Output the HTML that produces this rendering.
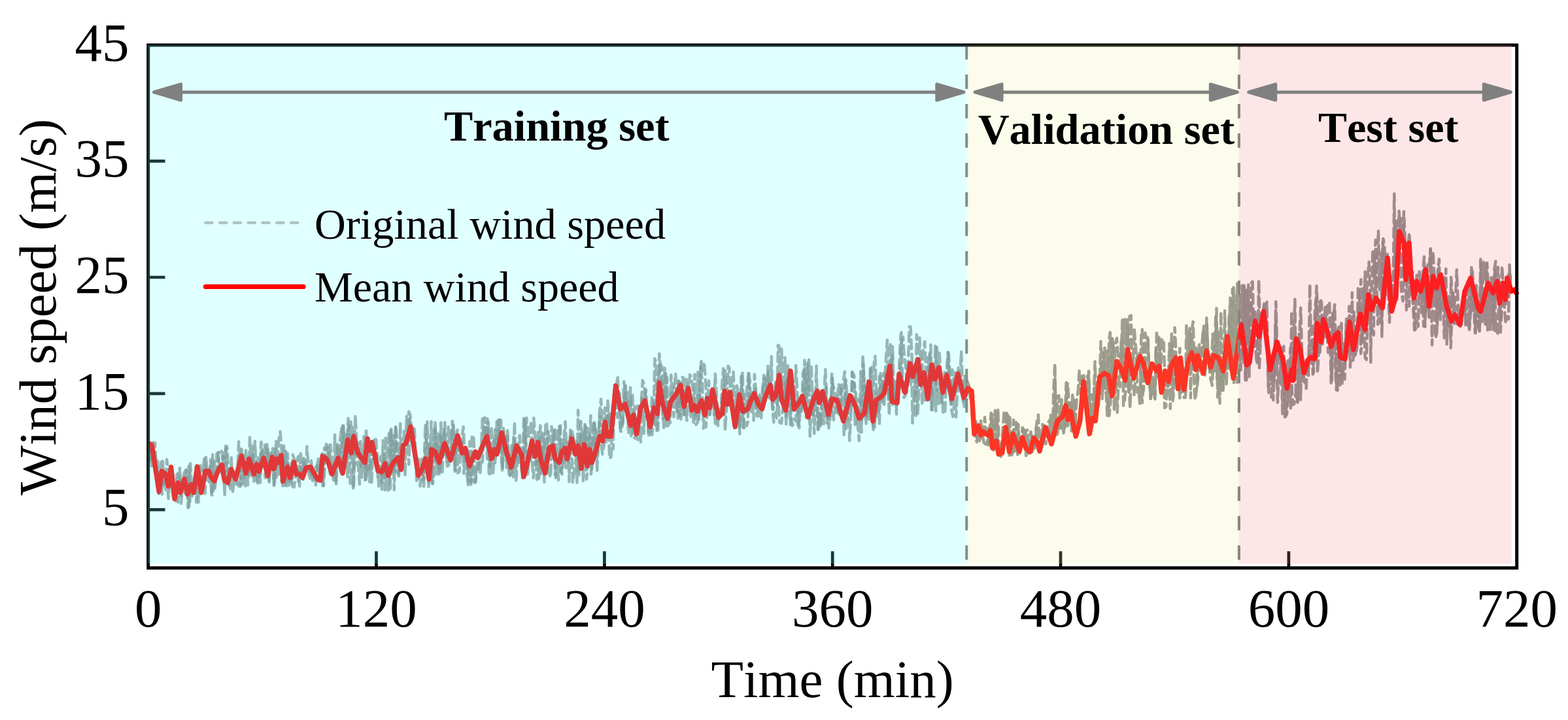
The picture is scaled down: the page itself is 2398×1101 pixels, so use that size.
<!DOCTYPE html><html><head><meta charset="utf-8"><style>html,body{margin:0;padding:0;background:#fff;}svg{display:block;}text{font-family:"Liberation Serif","Times New Roman",serif;fill:#000;font-kerning:none;}</style></head><body>
<svg width="2398" height="1101" viewBox="0 0 2398 1101">
<g fill="none" stroke="#808080" stroke-width="4.5" stroke-linecap="round" stroke-linejoin="round" stroke-dasharray="14 8">
<path stroke-opacity="0.75" d="M229.6 692.2 231.0 704.3 233.0 681.8 235.0 705.1 236.3 697.6 237.6 719.3 239.5 732.1 241.1 720.0 243.3 755.5 245.1 724.6 247.9 755.7 249.5 736.6 251.0 738.2 253.5 738.6 255.0 702.6 256.8 715.0 258.8 743.7 260.4 728.1 262.7 714.0 264.8 750.6 266.7 742.7 269.0 768.0 270.6 721.2 273.2 730.1 275.6 732.9 277.0 770.0 278.9 743.8 280.8 727.6 282.1 722.4 284.2 718.7 286.8 737.2 289.0 775.4 291.1 708.8 293.8 756.6 295.8 744.4 298.1 730.1 300.3 768.0 302.0 713.5 303.8 724.1 305.7 733.2 307.2 752.7 309.6 748.4 311.0 736.6 313.6 754.8 315.0 697.9 317.6 732.7 320.1 737.0 321.9 711.0 323.7 757.3 325.2 693.5 326.6 735.6 328.6 746.5 330.8 726.7 332.6 724.1 334.4 691.2 336.7 694.3 338.8 690.1 340.0 692.0 342.7 738.7 345.2 682.1 347.0 721.5 349.2 738.9 350.5 742.2 352.0 730.6 353.7 718.5 355.1 721.3 356.5 719.4 359.1 732.5 361.3 735.7 363.0 733.3 364.8 743.2 367.6 743.8 369.6 686.8 370.9 705.2 372.7 704.2 374.1 745.7 375.4 744.1 376.8 704.6 378.9 741.8 381.6 710.1 384.2 703.4 386.0 690.6 387.5 724.3 389.9 674.7 391.6 719.1 394.4 739.1 397.0 729.7 399.4 675.7 400.9 684.4 402.2 701.5 403.4 697.8 405.7 730.8 408.5 677.7 411.2 734.5 414.0 692.6 415.5 717.3 417.1 715.1 419.7 743.6 422.2 673.7 424.7 711.7 426.1 674.6 428.5 659.9 430.9 690.0 433.4 734.4 435.1 738.6 436.9 688.3 438.8 743.0 440.2 707.2 441.6 743.0 444.1 743.0 445.6 743.2 447.8 695.2 449.6 700.7 450.8 710.0 453.6 705.2 456.3 697.9 458.1 743.4 459.7 690.0 461.3 722.3 463.4 735.4 465.0 707.1 467.7 721.0 469.5 682.8 472.1 721.1 474.0 733.8 476.0 704.4 478.1 737.0 479.6 724.0 480.8 726.8 482.7 714.5 485.1 711.7 487.1 721.4 489.2 735.1 491.3 698.1 492.9 693.3 494.9 743.0 497.0 704.4 498.9 679.2 501.1 681.4 503.4 710.0 505.3 679.9 508.0 714.3 510.4 738.2 512.0 665.0 514.1 740.0 515.5 682.4 516.9 689.6 518.5 708.8 519.8 675.3 522.4 653.4 523.9 706.1 525.3 649.1 527.9 716.0 530.6 676.0 532.5 639.8 535.0 694.5 536.5 644.7 538.2 708.3 539.7 653.5 540.9 747.3 543.0 670.1 544.8 686.1 547.0 676.4 549.7 694.8 552.2 713.6 553.8 697.6 555.1 707.0 556.5 667.5 558.4 734.2 560.0 654.9 561.4 726.3 563.7 665.9 565.1 736.8 567.0 706.2 568.3 739.2 570.8 675.9 572.1 700.2 574.7 696.3 576.6 693.2 579.3 743.5 580.9 739.1 582.5 740.4 583.9 724.8 585.4 724.2 587.1 694.8 588.8 749.3 590.8 726.6 592.0 739.9 593.6 750.0 595.7 725.2 597.2 656.2 598.5 724.5 601.1 662.1 603.6 721.6 605.4 650.1 608.2 698.2 609.9 728.3 612.2 647.7 614.0 702.9 615.4 703.6 616.7 680.1 618.2 659.4 619.5 728.8 621.8 636.0 623.4 671.0 625.4 710.2 626.8 639.9 629.6 677.5 632.3 663.1 635.1 691.0 636.8 706.8 638.6 719.6 640.5 702.4 642.5 722.3 643.8 719.1 645.6 726.4 646.9 734.0 648.4 712.1 650.6 648.9 652.8 696.7 655.2 738.0 656.9 678.7 659.7 727.9 661.9 739.9 663.2 730.5 665.4 643.3 667.7 703.2 669.8 680.7 671.8 725.1 674.3 646.6 676.4 725.3 678.8 655.5 680.3 697.9 682.1 687.5 683.5 706.0 685.7 652.9 687.9 679.6 689.1 656.4 691.6 694.3 693.6 647.0 695.9 720.9 697.5 698.6 698.8 666.4 700.3 723.4 702.7 721.2 704.5 678.1 706.5 668.4 708.7 652.7 710.9 706.5 712.5 699.4 714.9 686.5 716.1 741.4 717.4 703.2 719.7 741.4 722.0 691.7 723.9 735.2 725.9 737.9 727.4 737.1 730.2 703.6 732.1 693.6 734.6 725.7 736.2 678.6 737.8 706.7 739.9 670.3 741.3 638.5 742.8 661.6 745.3 640.1 747.6 678.4 749.2 717.3 750.4 666.9 751.6 651.6 753.3 698.3 754.7 673.6 757.3 709.0 758.5 691.5 759.9 642.0 762.5 667.2 764.2 642.0 766.0 642.0 768.1 718.9 769.9 655.0 771.2 688.8 772.6 695.1 775.3 665.4 776.8 693.3 778.4 724.6 780.2 727.1 782.6 681.3 784.9 731.4 786.9 644.8 789.3 735.4 791.2 703.6 793.6 669.9 794.9 665.8 797.6 718.5 799.3 724.8 801.0 716.0 802.6 639.5 804.9 691.5 806.7 728.8 808.2 708.0 810.8 705.9 812.8 694.2 815.6 730.8 817.5 707.1 818.9 709.3 820.6 708.8 822.2 695.6 824.3 733.9 826.2 650.8 828.1 658.8 829.8 703.8 831.1 690.7 832.5 737.4 834.5 645.4 836.1 646.5 837.7 699.0 839.6 724.9 842.3 730.2 843.6 652.2 844.8 669.8 846.8 654.6 848.9 726.4 851.6 704.0 854.1 734.0 855.7 652.1 857.1 718.5 859.4 725.3 862.1 679.6 864.5 644.7 866.4 685.9 868.9 690.7 870.5 736.6 872.2 657.6 873.6 673.9 875.9 738.0 877.3 729.5 879.4 710.7 881.2 698.9 882.4 738.0 884.1 627.3 886.3 716.3 889.0 665.0 890.5 706.7 893.3 671.2 894.5 649.0 896.5 674.9 898.1 654.4 900.4 713.4 901.7 674.1 903.4 635.4 904.9 717.8 907.4 696.9 908.9 646.0 911.7 659.7 913.2 720.7 914.8 677.6 917.5 634.4 919.5 680.6 921.4 694.6 923.6 680.5 925.5 641.2 927.0 677.4 928.3 659.4 929.6 610.2 932.2 701.4 934.6 698.5 936.3 646.0 937.8 686.8 939.0 604.4 941.3 586.0 943.0 631.9 944.5 638.7 946.3 613.0 949.0 659.3 950.5 659.8 952.3 646.2 954.2 583.5 955.5 594.6 958.1 630.4 959.7 596.2 960.9 663.6 962.8 655.1 964.0 592.4 965.3 666.4 966.9 659.4 969.3 655.4 970.9 621.3 973.7 626.9 976.0 620.2 977.7 636.2 980.1 626.5 982.8 581.8 984.0 585.3 985.6 589.7 988.3 637.6 990.1 631.5 992.1 664.7 994.8 660.7 997.2 664.8 999.7 630.8 1001.4 548.6 1003.2 553.4 1004.5 658.5 1006.0 623.0 1007.3 564.6 1008.6 557.6 1011.3 592.0 1013.9 641.8 1015.3 620.2 1016.6 563.0 1018.5 633.1 1020.1 577.2 1022.4 642.5 1024.8 637.3 1026.2 573.3 1028.7 599.0 1030.5 637.6 1032.9 610.5 1034.5 622.7 1035.9 629.9 1037.7 580.2 1039.5 636.3 1041.1 589.3 1043.6 576.8 1044.9 577.5 1046.9 634.1 1049.5 579.8 1050.8 599.4 1052.3 613.8 1055.1 572.9 1056.9 575.9 1059.5 591.9 1061.9 626.2 1064.6 649.4 1066.8 646.1 1068.4 603.9 1069.9 631.9 1071.5 558.7 1073.0 574.2 1074.2 583.6 1075.7 655.1 1077.4 641.1 1079.5 653.2 1080.8 638.8 1082.9 631.3 1085.1 633.6 1087.4 620.9 1089.3 594.1 1092.0 634.6 1093.7 571.7 1095.6 600.2 1098.1 651.1 1099.7 635.9 1102.0 635.6 1104.7 633.2 1106.6 628.2 1109.2 566.9 1111.1 614.7 1113.2 620.1 1115.4 619.5 1117.6 600.5 1119.4 596.9 1121.0 630.0 1123.1 652.4 1125.1 635.0 1127.6 648.4 1129.0 612.7 1131.7 655.9 1133.0 607.7 1135.6 568.5 1137.8 655.6 1140.3 646.2 1141.9 651.1 1143.7 645.7 1145.2 571.2 1146.8 583.0 1148.6 630.0 1150.0 609.6 1152.6 643.0 1153.9 572.5 1155.2 588.7 1157.7 636.6 1159.8 636.2 1162.0 606.0 1164.1 639.2 1166.0 596.5 1167.9 579.0 1169.1 579.4 1170.7 577.9 1173.1 607.1 1174.6 557.2 1176.6 608.7 1178.5 605.1 1179.8 545.2 1181.1 619.8 1183.3 645.7 1185.7 631.0 1187.8 639.3 1189.6 604.3 1192.3 646.1 1195.1 647.3 1197.5 622.8 1200.2 584.9 1202.2 648.6 1203.7 579.1 1206.1 605.4 1207.9 571.7 1210.3 642.4 1212.0 651.0 1214.5 640.7 1217.1 644.1 1218.7 615.0 1220.4 650.7 1221.6 623.5 1224.3 629.9 1226.6 625.7 1229.1 595.6 1230.5 551.0 1232.2 609.2 1234.8 555.5 1237.4 604.9 1238.8 667.1 1240.6 618.6 1243.1 600.0 1245.2 662.8 1247.0 609.0 1248.5 559.5 1250.9 657.1 1252.5 631.2 1254.7 653.3 1257.0 597.2 1258.7 611.2 1260.1 607.2 1262.3 564.9 1264.9 636.4 1266.3 635.1 1267.6 654.8 1268.8 611.5 1270.6 628.7 1272.1 571.7 1273.6 588.9 1275.8 594.7 1278.5 615.0 1280.1 623.3 1282.4 632.7 1284.9 634.1 1286.6 586.7 1287.8 597.3 1289.5 586.3 1291.8 568.2 1294.2 655.4 1295.8 631.1 1297.8 606.9 1299.7 607.6 1302.1 626.2 1303.3 568.6 1304.7 589.2 1306.3 586.4 1308.5 597.4 1311.0 644.6 1312.7 659.3 1314.0 674.0 1316.3 567.9 1317.5 661.1 1319.4 542.3 1321.8 586.9 1323.2 630.8 1324.8 649.4 1327.2 608.1 1329.5 641.0 1331.1 564.0 1333.2 558.5 1335.2 652.4 1336.9 548.8 1338.4 544.7 1341.0 636.5 1342.6 612.6 1345.0 648.8 1346.7 571.1 1349.3 581.0 1352.0 622.4 1354.2 562.4 1356.9 520.0 1358.9 614.0 1361.5 523.9 1363.4 590.4 1365.1 529.3 1366.6 594.9 1369.3 595.2 1370.7 623.1 1373.4 598.1 1375.1 579.3 1376.4 584.3 1378.7 524.2 1381.1 515.4 1382.4 539.0 1384.9 557.9 1387.4 592.6 1390.0 555.0 1392.7 587.7 1394.2 558.5 1395.6 647.1 1398.1 592.5 1400.3 599.7 1401.9 511.4 1403.3 634.2 1404.8 612.3 1406.5 566.0 1408.1 590.2 1409.8 572.1 1411.5 537.1 1414.3 522.4 1416.4 590.4 1417.7 546.7 1420.1 611.4 1421.9 568.4 1423.4 527.2 1426.0 627.0 1427.5 613.7 1428.7 594.8 1431.4 628.5 1432.7 531.0 1435.1 567.8 1436.6 539.8 1439.2 583.1 1440.8 615.7 1442.3 584.8 1444.6 569.2 1446.9 579.1 1448.2 591.3 1450.6 538.9 1452.8 568.9 1454.7 624.2 1457.3 637.1 1458.5 631.4 1460.1 585.7 1462.1 638.0 1463.9 602.2 1465.8 561.5 1467.9 585.4 1470.1 537.3 1471.9 587.7 1474.4 623.8 1476.7 600.6 1478.6 581.7"/>
<path stroke-opacity="0.92" d="M1478.6 581.7 1481.0 588.0 1483.0 593.8 1485.6 600.4 1487.2 645.9 1489.6 661.9 1491.0 647.4 1492.6 644.5 1494.1 673.4 1495.8 670.8 1498.2 673.9 1499.5 667.4 1501.3 661.4 1504.1 666.4 1506.0 638.0 1507.5 656.5 1509.1 655.9 1510.9 679.0 1513.3 664.5 1515.7 631.6 1517.6 681.3 1519.0 649.8 1521.4 654.5 1524.1 630.6 1526.5 693.1 1528.3 694.8 1530.9 698.0 1533.4 658.9 1535.7 627.7 1537.9 638.4 1540.1 673.2 1541.5 633.5 1543.8 696.2 1546.0 678.6 1547.9 693.1 1550.1 642.1 1552.8 689.7 1554.3 653.4 1556.1 648.1 1558.1 690.4 1560.2 683.4 1561.6 686.1 1563.7 653.8 1565.0 656.2 1567.4 669.3 1569.4 658.0 1571.4 657.7 1573.3 693.0 1575.6 684.8 1577.4 683.4 1580.2 667.4 1582.0 683.9 1583.8 677.5 1585.0 653.0 1587.3 684.4 1589.1 683.9 1591.5 686.2 1594.2 649.0 1596.7 659.7 1598.5 658.0 1600.9 666.6 1603.4 645.8 1605.5 642.6 1607.1 671.7 1609.3 660.9 1611.8 666.6 1613.5 579.2 1615.6 665.1 1617.3 663.2 1619.9 636.2 1621.5 654.8 1623.4 639.4 1625.8 635.2 1627.4 629.0 1629.4 652.7 1631.3 594.7 1633.0 586.0 1635.7 638.9 1638.2 618.6 1640.9 647.5 1643.4 611.3 1645.6 650.9 1648.4 648.5 1650.6 647.6 1652.0 645.1 1653.6 626.3 1655.1 575.3 1657.7 597.4 1660.3 599.7 1662.5 637.4 1665.1 567.5 1667.6 650.3 1669.9 603.6 1672.0 636.1 1674.6 552.9 1676.7 624.3 1678.1 624.1 1680.1 619.8 1681.5 592.0 1683.5 522.1 1686.1 573.6 1687.3 596.8 1689.4 530.9 1691.6 596.4 1693.5 535.7 1696.2 635.7 1698.5 614.5 1699.7 516.6 1702.4 526.9 1704.1 628.7 1706.1 560.0 1708.7 630.7 1710.9 575.7 1712.7 591.6 1714.6 522.7 1716.7 573.3 1718.6 529.9 1720.5 486.8 1722.1 528.0 1724.6 497.4 1726.3 583.5 1728.3 623.5 1730.8 550.2 1732.5 548.8 1734.6 606.1 1736.8 570.2 1739.2 544.6 1741.8 537.7 1743.5 542.4 1744.7 592.4 1746.9 616.1 1749.1 580.2 1751.3 508.9 1753.5 519.3 1755.7 517.9 1757.9 583.7 1759.9 609.7 1762.3 577.3 1763.6 573.3 1766.0 608.0 1767.8 530.1 1770.3 576.2 1771.9 515.9 1773.6 539.3 1775.5 601.3 1777.7 599.2 1779.8 572.4 1781.1 623.8 1783.2 621.6 1785.9 570.6 1787.7 582.2 1789.8 625.0 1791.8 510.6 1793.7 612.9 1795.2 596.1 1796.6 554.8 1798.9 558.6 1800.3 588.5 1802.9 573.5 1804.3 608.8 1805.9 559.4 1808.3 576.3 1810.7 598.0 1813.1 601.9 1814.4 498.0 1816.6 542.3 1819.3 502.2 1820.9 608.5 1822.1 527.1 1823.3 500.5 1824.7 492.0 1826.4 550.9 1829.0 531.9 1830.9 592.5 1833.0 565.1 1835.0 542.1 1837.4 534.2 1839.2 515.3 1841.1 498.6 1842.9 573.6 1845.4 486.3 1847.5 540.7 1850.2 566.1 1852.5 569.2 1854.7 510.4 1857.5 570.0 1859.2 481.7 1861.1 579.2 1863.3 507.7 1865.5 616.7 1867.2 476.9 1868.4 554.3 1870.5 597.0 1873.0 556.9 1875.5 520.2 1878.0 566.7 1879.7 480.7 1882.2 566.4 1884.9 441.9 1886.7 587.3 1889.1 572.8 1890.7 547.3 1892.2 432.5 1894.4 488.7 1895.9 452.5 1897.5 500.3 1899.5 436.7 1900.8 545.0 1902.4 436.6 1904.5 581.1 1906.6 442.4 1908.5 506.7 1910.0 524.1 1911.5 524.7 1913.6 465.1 1915.5 482.7 1916.7 508.7 1919.5 475.8 1921.7 517.6 1924.2 543.5 1925.9 563.7 1928.0 515.6 1930.8 488.4 1933.4 464.2 1935.0 508.1 1937.4 461.7 1939.8 590.9 1942.4 587.5 1943.6 544.3 1945.1 561.8 1946.4 567.0 1948.5 583.0 1951.2 487.7 1953.9 615.5 1955.7 568.3 1957.1 586.6 1959.2 531.8 1961.4 632.7 1963.3 529.6 1965.2 637.7 1968.0 633.4 1969.5 613.2 1971.3 588.3 1973.9 624.3 1975.2 476.6 1977.7 546.4 1980.4 457.7 1981.7 597.1 1984.4 615.3 1986.7 510.5 1989.1 611.2 1990.5 527.0 1991.9 583.5 1993.9 577.6 1995.3 583.5 1997.6 594.0 1999.1 558.2 2000.4 568.9 2003.0 521.2 2005.6 556.9 2007.5 515.8 2008.9 570.2 2011.1 471.5 2013.0 455.0 2015.0 570.5 2017.2 529.4 2018.5 538.8 2020.8 495.1 2023.4 487.8 2025.1 480.5 2026.7 515.6 2029.2 494.7 2031.2 539.2 2032.9 538.6 2035.7 515.5 2037.0 581.1 2038.5 482.0 2040.5 509.4 2042.0 559.2 2043.8 596.4 2046.5 503.3 2047.8 499.7 2049.1 591.8 2051.5 494.3 2052.7 586.4 2055.2 525.5 2056.4 560.1 2058.9 492.5 2060.8 511.9 2063.5 509.9 2064.9 561.5 2066.4 517.2 2067.9 447.6 2069.2 551.1 2071.2 539.2 2072.9 526.6 2075.2 538.1 2077.7 467.1 2079.0 473.3 2081.4 427.4 2082.7 523.9 2085.2 440.5 2087.7 547.1 2089.7 550.1 2091.7 475.9 2094.3 454.8 2096.8 509.5 2098.6 500.0 2100.8 512.6 2102.0 389.2 2104.0 447.0 2105.4 427.8 2108.0 352.0 2109.7 442.9 2112.1 385.3 2113.4 514.7 2115.4 364.9 2117.4 377.2 2118.6 418.7 2121.4 409.4 2122.7 451.5 2124.3 430.4 2125.7 420.7 2128.0 472.7 2130.2 470.7 2132.3 296.2 2133.7 430.4 2136.3 417.2 2137.7 374.6 2139.6 322.8 2141.0 356.6 2142.9 442.3 2145.5 460.6 2146.9 323.4 2148.4 357.8 2150.9 473.9 2152.8 381.0 2155.3 355.9 2158.0 412.7 2160.4 416.1 2162.2 477.9 2164.1 503.9 2166.7 420.7 2169.2 445.9 2171.3 427.4 2174.0 479.2 2175.9 418.6 2178.1 392.5 2179.4 499.7 2181.3 414.1 2182.7 437.0 2185.5 487.3 2187.7 380.4 2190.2 527.6 2191.4 383.9 2193.7 423.9 2195.3 517.4 2197.4 509.0 2199.0 414.0 2201.0 396.2 2202.7 488.8 2204.3 419.6 2206.5 426.5 2209.2 424.2 2211.2 460.1 2213.2 486.9 2214.6 497.7 2216.3 450.1 2217.9 506.7 2219.2 424.1 2221.4 461.8 2223.5 466.7 2225.9 457.8 2227.8 412.4 2229.8 463.2 2231.4 494.6 2233.5 499.1 2235.3 468.1 2237.0 461.3 2239.6 452.9 2241.6 499.8 2243.3 479.1 2245.7 430.8 2247.2 504.1 2249.1 475.2 2250.4 409.0 2252.7 475.4 2254.1 463.8 2256.5 509.5 2257.9 436.5 2260.2 496.2 2262.4 505.0 2264.4 396.4 2266.8 463.1 2268.8 400.8 2271.2 428.9 2272.6 402.0 2275.2 504.7 2277.4 438.3 2279.4 503.9 2281.2 433.8 2283.7 491.3 2285.5 411.2 2287.4 399.6 2289.1 457.6 2290.9 408.5 2292.6 439.3 2295.1 487.8 2297.0 407.0 2298.5 428.4 2300.6 468.1 2302.7 494.8 2304.5 484.3 2307.0 488.0 2308.5 404.9 2310.4 446.7"/>
<path stroke-opacity="0.75" d="M230.1 678.2 232.1 712.8 234.2 676.7 237.0 677.0 239.3 721.7 241.1 704.9 242.9 755.0 245.6 718.9 246.9 702.5 248.7 703.4 250.9 741.0 253.5 749.0 255.4 728.1 257.6 762.5 259.6 727.9 262.1 735.4 264.9 758.8 267.4 745.1 270.0 748.1 272.3 768.0 275.0 715.0 276.8 757.4 278.9 758.8 280.9 743.5 283.1 755.4 285.2 718.6 287.5 776.4 288.7 712.8 290.4 766.9 292.7 762.9 295.3 750.4 297.4 733.4 299.4 714.7 301.5 713.4 303.5 768.0 306.3 711.7 307.7 733.5 309.2 746.7 310.5 725.1 312.0 700.0 314.2 715.6 316.7 725.1 319.1 722.2 320.8 719.4 322.3 703.0 323.9 757.2 326.1 756.8 327.8 705.4 329.1 737.5 331.7 693.5 333.6 691.9 335.8 716.3 338.5 722.5 341.1 697.5 343.6 757.8 345.3 682.1 347.3 683.1 350.0 732.0 352.3 747.4 353.9 699.7 355.9 752.1 358.3 728.6 360.1 740.2 361.6 740.2 363.7 713.2 365.1 675.4 366.9 699.3 368.2 744.0 370.0 744.5 371.6 715.2 373.2 732.2 374.4 698.0 375.9 687.7 378.2 729.6 380.7 716.0 382.1 667.8 384.6 727.2 386.1 682.2 387.9 737.4 390.6 727.1 392.6 737.8 394.2 699.0 396.5 721.9 398.1 737.8 399.9 689.0 401.5 693.1 404.1 694.4 405.5 677.8 407.2 714.0 409.6 685.6 411.7 737.2 413.4 699.8 414.9 712.0 417.4 685.7 418.8 742.6 420.9 686.5 422.6 733.4 423.9 698.2 425.3 728.4 427.6 695.9 430.3 733.4 432.7 743.0 434.1 681.7 435.8 743.0 438.1 724.1 439.8 693.2 442.1 736.1 443.7 735.8 445.9 708.0 447.4 744.0 449.8 744.9 452.1 725.4 453.6 726.1 455.1 716.2 456.4 739.2 458.1 714.0 460.6 713.2 462.7 724.5 464.6 697.8 466.9 717.9 469.5 715.8 471.9 713.1 474.5 719.6 476.6 729.7 478.0 723.0 480.5 731.5 482.9 741.9 484.2 722.4 486.6 699.8 489.1 729.7 491.9 723.3 493.7 743.0 496.1 685.1 498.6 687.3 499.9 689.6 502.3 682.8 504.9 726.3 506.3 721.0 508.7 710.2 511.2 712.6 513.9 739.6 516.1 679.2 517.4 694.5 519.2 685.5 520.9 721.0 522.3 698.3 523.9 651.2 525.5 660.2 528.2 692.2 529.9 663.8 531.4 730.7 533.5 650.2 535.5 739.1 538.0 718.6 540.1 746.8 542.1 682.7 543.4 634.9 545.1 667.9 546.4 711.0 548.0 712.6 550.0 740.5 551.3 675.3 553.1 730.0 554.6 706.1 557.4 707.7 559.8 733.2 562.5 711.5 564.7 720.7 566.5 714.7 568.0 677.6 570.7 684.0 573.0 668.6 575.2 672.9 576.8 714.0 578.0 731.3 580.5 730.4 582.0 698.0 584.2 748.6 585.7 673.5 588.1 734.8 589.8 667.2 591.3 728.2 593.1 687.7 595.2 660.3 596.8 750.5 598.1 655.9 600.6 684.1 602.9 749.1 604.9 650.3 606.9 718.0 609.0 724.7 610.4 695.4 612.3 685.3 615.0 706.9 616.9 688.1 618.4 679.6 621.0 675.3 623.5 681.3 625.2 629.4 627.4 634.3 629.2 657.9 631.1 651.9 633.7 656.1 635.2 689.3 637.3 736.4 639.1 724.3 640.8 731.4 642.7 743.5 645.3 702.1 648.1 744.6 650.6 688.8 651.9 678.4 653.5 644.9 655.6 744.0 657.9 693.0 659.6 644.7 660.8 741.0 662.3 671.3 663.6 653.5 665.9 658.0 667.8 725.1 669.8 663.1 671.2 687.9 672.7 724.8 674.1 666.5 676.6 689.3 678.7 697.6 680.3 646.1 681.9 686.2 684.0 713.1 686.1 711.4 687.4 685.6 689.3 705.2 691.9 644.0 694.3 669.0 695.7 720.9 697.1 673.4 699.6 657.0 702.3 690.4 704.4 685.9 706.9 674.5 708.2 693.6 709.4 724.0 711.6 693.6 713.9 725.0 715.8 736.6 718.4 675.2 720.5 740.9 721.9 666.2 724.3 665.7 726.6 737.5 729.1 717.6 731.5 717.3 734.2 689.2 736.4 675.7 737.8 640.2 739.1 662.1 741.8 663.7 743.3 653.3 745.2 701.9 746.6 645.2 747.9 728.4 749.4 724.2 751.4 683.2 753.3 726.4 754.7 715.5 757.0 656.9 759.5 697.1 761.2 687.0 762.7 642.0 765.1 670.8 766.4 697.4 768.7 718.7 770.5 659.8 773.1 687.5 774.9 715.1 776.2 655.3 778.0 710.3 780.1 727.1 781.4 718.8 783.3 722.9 785.4 668.3 786.6 713.0 788.8 683.1 790.7 690.1 793.5 707.4 795.8 697.2 797.4 687.8 799.0 730.6 801.1 639.8 803.9 691.6 805.2 639.0 807.8 670.8 810.2 652.1 812.0 646.4 813.6 698.8 816.3 639.3 818.6 671.4 821.0 733.5 823.0 660.2 825.1 664.1 827.0 724.8 828.7 715.9 831.5 663.5 833.0 723.2 834.6 700.1 835.8 719.3 838.4 657.4 840.5 697.2 842.2 690.9 843.9 695.6 845.6 678.5 848.3 656.9 850.0 730.6 851.4 680.5 852.9 654.6 854.6 653.1 857.1 651.0 858.4 721.9 860.3 712.5 862.0 672.7 863.2 702.1 865.5 715.4 867.1 676.7 869.2 706.7 871.8 668.6 874.2 657.0 876.9 669.6 879.4 681.1 882.0 675.1 883.5 703.0 885.6 727.7 888.3 644.2 889.8 658.5 892.0 736.5 893.9 665.6 895.2 651.4 897.0 732.7 898.8 715.3 900.8 664.4 902.7 673.0 903.9 725.1 906.7 674.2 908.0 644.3 909.7 651.5 911.1 697.2 913.5 694.9 914.9 689.5 916.9 630.6 919.1 610.3 921.2 648.6 922.9 662.5 925.3 623.4 927.7 664.7 930.1 630.2 932.9 634.1 934.9 668.1 937.6 636.6 939.6 617.2 941.9 599.5 944.6 574.8 946.2 612.8 947.5 601.4 948.9 654.5 951.0 635.8 952.4 648.5 953.9 610.0 955.4 614.5 956.8 589.6 958.1 629.3 960.8 613.5 962.8 621.0 965.3 617.4 967.3 601.9 968.6 668.6 971.0 670.2 972.9 665.4 975.4 672.4 977.3 652.4 980.0 676.0 981.5 605.0 983.1 615.7 984.7 662.8 986.2 616.6 987.9 596.1 990.7 641.9 992.1 669.1 994.7 658.4 997.1 608.0 999.6 616.0 1001.6 650.1 1004.2 648.4 1006.4 657.7 1008.3 540.9 1009.9 557.0 1012.5 560.7 1015.1 656.0 1016.5 655.7 1018.2 567.2 1019.5 655.1 1020.7 653.9 1023.3 643.9 1024.7 647.0 1026.2 607.5 1027.9 598.5 1030.6 594.8 1033.3 571.7 1034.6 606.6 1036.9 639.7 1038.2 582.4 1040.0 590.4 1041.4 640.9 1043.1 614.0 1045.7 634.2 1047.1 633.5 1049.0 626.8 1050.5 643.3 1052.8 587.1 1054.6 605.4 1056.6 637.1 1058.1 606.8 1060.9 649.8 1062.5 572.4 1064.0 622.7 1065.3 635.2 1067.3 568.9 1069.1 641.2 1070.3 590.7 1072.4 552.6 1074.4 566.8 1077.0 553.8 1079.4 587.2 1081.3 628.3 1084.0 582.3 1085.9 635.6 1087.3 615.0 1089.5 598.8 1092.2 605.0 1094.0 652.0 1095.5 626.1 1098.1 642.4 1100.5 641.2 1102.9 622.1 1104.6 581.2 1106.3 563.5 1109.0 658.0 1111.6 614.0 1113.6 559.7 1115.2 562.2 1117.4 605.7 1119.7 580.7 1121.6 568.6 1123.9 635.6 1125.6 596.4 1127.1 589.8 1129.3 608.0 1131.3 663.5 1133.6 575.3 1135.2 617.5 1136.6 653.5 1138.6 602.8 1140.7 632.6 1142.2 596.1 1144.7 570.7 1147.2 623.2 1149.8 614.5 1151.6 600.1 1154.2 610.0 1155.6 594.1 1157.2 630.0 1159.7 629.1 1161.7 603.8 1163.6 625.1 1166.4 605.3 1168.3 573.8 1170.8 606.3 1173.1 579.8 1174.9 569.5 1176.7 588.5 1178.4 585.9 1179.9 604.9 1182.1 626.5 1184.4 614.2 1186.0 584.7 1188.6 619.6 1189.9 527.8 1191.4 529.3 1193.3 606.2 1195.1 533.5 1196.4 560.1 1198.7 627.2 1200.4 546.2 1202.9 636.8 1204.7 556.8 1207.3 626.2 1208.8 650.2 1210.6 576.9 1212.9 600.9 1215.3 631.6 1217.1 558.7 1219.8 609.0 1222.2 654.6 1224.1 618.9 1226.1 628.9 1228.0 570.4 1230.6 562.9 1232.7 638.3 1235.2 584.5 1237.0 550.3 1238.3 597.2 1240.7 559.0 1243.2 634.1 1244.5 630.0 1247.0 619.7 1249.4 610.9 1251.5 656.5 1253.8 629.4 1255.8 652.2 1257.7 620.1 1259.8 648.2 1262.4 615.0 1263.8 591.4 1265.0 648.1 1267.8 623.7 1269.5 642.8 1271.1 641.5 1273.1 578.2 1275.0 642.3 1277.6 622.2 1280.1 632.0 1281.6 597.7 1282.9 587.4 1284.8 618.2 1286.8 594.7 1289.3 615.5 1290.8 666.8 1292.1 603.7 1293.8 581.2 1295.9 611.8 1297.6 603.9 1299.3 673.7 1301.6 630.0 1303.6 569.9 1306.3 574.5 1307.6 650.3 1309.4 618.6 1312.0 622.5 1313.3 610.2 1316.0 615.8 1318.1 645.6 1320.4 555.5 1322.7 615.6 1325.2 638.8 1326.6 630.1 1328.0 583.0 1329.4 618.8 1331.2 563.8 1333.5 623.1 1335.8 659.4 1337.2 657.7 1338.5 636.2 1341.0 600.2 1343.2 632.1 1344.9 575.6 1347.5 592.4 1349.2 614.2 1351.7 570.5 1354.5 579.2 1356.3 589.2 1358.5 582.4 1359.9 635.4 1361.8 569.1 1364.1 544.1 1365.5 618.8 1368.2 583.5 1371.0 633.6 1372.6 575.6 1374.4 581.1 1377.1 517.4 1378.4 508.2 1380.6 595.3 1382.6 607.9 1384.3 605.2 1386.9 598.9 1389.6 537.7 1390.8 499.6 1392.6 499.8 1395.3 562.7 1397.0 558.4 1398.9 567.9 1400.4 638.9 1402.9 549.8 1405.0 579.2 1406.3 516.6 1408.5 557.7 1410.4 619.1 1411.8 583.8 1414.0 609.1 1415.8 615.7 1417.6 582.2 1419.1 575.9 1421.8 540.7 1424.4 626.6 1426.3 576.5 1428.9 589.7 1430.3 526.9 1431.7 576.0 1433.7 598.3 1435.7 617.2 1437.5 586.1 1439.0 618.0 1440.4 593.9 1442.4 632.1 1445.0 633.0 1447.0 587.9 1449.5 538.5 1451.0 563.1 1453.4 611.4 1454.7 620.3 1456.5 565.6 1459.1 592.7 1460.5 566.6 1462.6 570.9 1465.1 570.0 1466.7 567.8 1468.8 598.5 1471.0 594.6 1473.3 616.7 1475.8 572.2 1477.8 604.9"/>
<path stroke-opacity="0.92" d="M1477.8 604.9 1480.5 593.1 1482.3 591.8 1483.9 609.4 1486.3 603.5 1488.0 623.3 1489.5 658.8 1491.2 670.1 1494.0 676.0 1495.9 651.1 1497.9 662.8 1500.3 641.8 1502.5 666.6 1505.1 677.2 1507.6 679.3 1509.3 676.2 1510.8 682.0 1513.2 653.8 1514.6 682.2 1517.2 630.5 1519.6 688.3 1521.8 627.5 1523.7 686.5 1526.3 624.5 1527.9 696.3 1530.6 677.2 1532.0 698.0 1533.6 669.9 1536.2 669.3 1538.1 676.3 1539.7 631.7 1542.0 681.4 1544.3 636.3 1546.8 695.3 1549.1 698.0 1550.9 654.9 1552.3 647.9 1554.0 646.0 1556.2 695.2 1557.4 649.4 1559.4 693.1 1561.9 677.8 1563.7 658.0 1565.5 663.7 1567.0 656.9 1569.2 696.8 1570.9 692.6 1573.2 691.5 1575.1 667.0 1576.5 660.2 1578.8 693.4 1580.3 680.1 1581.9 686.7 1583.5 668.4 1586.1 640.7 1587.9 634.3 1589.9 688.0 1592.7 666.0 1594.2 675.5 1596.2 650.1 1597.4 678.1 1599.4 678.6 1601.9 661.5 1603.2 673.3 1605.3 672.8 1607.1 631.1 1609.8 670.0 1611.1 601.9 1613.3 556.0 1615.1 662.0 1617.4 605.9 1619.4 605.0 1621.7 654.8 1623.5 611.1 1626.2 664.3 1628.5 646.8 1630.6 585.0 1633.2 651.2 1635.6 634.5 1637.3 615.9 1638.7 659.3 1640.2 601.2 1642.3 631.0 1644.1 648.6 1646.5 612.3 1649.0 595.8 1650.6 566.1 1653.4 609.4 1655.6 622.4 1657.4 574.2 1660.2 603.1 1661.8 580.1 1663.3 574.5 1665.7 598.8 1667.5 650.5 1670.1 646.2 1671.6 636.5 1673.3 593.2 1674.6 618.6 1677.3 630.7 1680.0 602.0 1682.7 602.1 1684.3 554.8 1685.6 610.0 1687.3 539.4 1690.0 598.7 1691.6 601.1 1693.5 635.6 1696.1 520.0 1697.8 508.3 1699.2 598.5 1701.3 518.1 1703.6 585.5 1705.4 527.1 1708.0 517.0 1710.3 548.7 1711.9 561.0 1714.4 547.2 1716.5 488.8 1718.1 620.3 1719.7 613.9 1722.1 587.9 1724.4 484.9 1725.8 599.0 1727.5 483.5 1729.7 482.5 1732.0 577.0 1734.7 503.9 1737.1 532.6 1739.6 600.0 1741.3 594.6 1743.4 619.6 1745.4 510.2 1746.8 503.7 1748.6 598.1 1750.6 579.3 1753.1 541.5 1755.0 516.0 1757.1 561.4 1759.6 609.8 1762.1 591.6 1764.5 605.1 1766.5 610.3 1768.9 508.2 1771.4 516.0 1772.8 516.6 1775.2 567.5 1776.8 519.4 1778.1 517.5 1779.7 524.0 1781.3 573.3 1783.6 589.9 1786.3 591.1 1788.6 525.0 1790.0 586.8 1791.2 525.2 1793.4 581.3 1794.7 584.4 1796.6 500.9 1797.8 525.6 1800.4 592.4 1802.6 593.3 1804.3 532.4 1805.9 600.5 1808.3 586.6 1810.8 608.0 1812.9 608.0 1814.1 581.1 1816.1 542.1 1818.3 558.0 1820.7 509.3 1822.7 520.7 1824.9 562.5 1827.7 611.8 1830.1 593.9 1832.9 538.2 1834.2 526.8 1836.2 561.4 1838.5 549.1 1840.2 502.8 1841.7 522.4 1843.2 569.0 1845.6 495.3 1847.1 538.7 1849.4 561.3 1851.5 579.5 1853.9 589.5 1856.6 530.4 1859.2 530.4 1860.5 471.4 1862.1 607.3 1864.4 557.7 1866.6 549.9 1868.1 596.9 1870.3 591.6 1871.6 557.6 1873.1 475.3 1875.6 589.9 1877.5 538.1 1878.9 540.8 1881.4 455.5 1884.0 574.2 1886.5 435.8 1887.9 571.1 1889.3 452.7 1890.8 506.3 1892.4 585.1 1894.8 533.2 1897.5 565.9 1899.8 501.6 1901.7 554.1 1903.1 436.5 1904.3 548.7 1906.1 581.5 1907.3 574.2 1909.2 435.5 1910.5 575.7 1911.8 480.1 1913.5 433.1 1915.5 430.6 1917.7 516.4 1920.4 536.6 1922.2 557.1 1923.6 545.3 1925.1 428.2 1927.3 523.4 1929.7 479.6 1932.0 490.4 1933.3 467.8 1935.6 518.9 1937.9 532.3 1940.3 601.1 1942.2 604.1 1944.4 607.5 1945.7 561.6 1947.2 611.8 1949.1 564.0 1951.3 461.3 1953.7 556.2 1956.4 540.5 1958.9 561.1 1960.5 550.2 1963.2 573.6 1965.9 636.7 1968.1 613.9 1969.5 551.7 1970.8 584.5 1973.5 531.9 1975.9 596.9 1977.3 619.0 1979.3 617.4 1982.0 600.1 1984.6 615.2 1986.7 531.7 1989.2 470.8 1991.4 551.1 1993.9 575.7 1995.9 568.9 1997.6 551.1 2000.0 553.9 2001.2 574.3 2003.2 434.9 2004.6 512.3 2006.4 498.5 2007.8 572.3 2009.6 531.1 2010.9 525.0 2013.5 437.3 2014.9 472.9 2017.3 538.7 2018.7 457.1 2021.1 462.0 2022.4 526.5 2024.7 505.3 2026.8 467.1 2028.7 498.7 2030.8 462.3 2033.2 463.1 2035.7 585.6 2038.0 478.7 2039.3 485.3 2041.2 465.7 2043.8 577.1 2045.7 597.0 2048.0 526.5 2049.8 575.4 2051.5 575.7 2054.3 565.1 2056.5 580.0 2059.1 487.7 2061.8 509.9 2063.4 468.5 2065.3 534.9 2067.9 523.0 2070.6 477.1 2073.0 542.9 2075.7 514.0 2077.0 440.1 2079.5 462.1 2081.3 540.7 2083.4 513.2 2085.4 489.5 2087.7 415.3 2089.5 452.4 2092.2 417.3 2093.5 400.6 2095.1 436.3 2096.3 554.1 2097.9 431.0 2099.4 381.7 2101.3 424.0 2103.7 366.9 2106.1 458.9 2107.3 496.1 2109.7 471.5 2112.4 494.8 2114.6 369.8 2116.8 400.4 2119.1 419.2 2120.4 437.8 2121.6 388.4 2123.0 438.1 2125.0 493.0 2126.6 421.5 2129.1 474.3 2130.7 471.1 2132.6 411.2 2135.0 337.5 2136.3 458.3 2138.8 352.1 2140.1 387.1 2142.7 333.7 2145.2 351.4 2146.4 342.9 2147.9 423.1 2150.1 403.2 2152.3 386.6 2153.7 369.5 2155.0 468.4 2157.3 407.4 2159.4 434.6 2160.6 458.7 2163.2 504.8 2165.0 503.0 2167.3 491.5 2168.9 499.1 2170.7 415.4 2172.3 440.5 2174.8 426.5 2177.2 498.9 2178.8 440.5 2180.6 475.0 2182.4 402.4 2185.0 406.6 2186.2 400.7 2187.8 380.5 2189.1 421.3 2191.0 442.8 2193.3 457.1 2195.3 452.0 2196.8 447.0 2198.2 497.6 2199.5 410.9 2202.2 480.2 2204.3 467.4 2206.7 456.2 2208.8 516.8 2211.3 411.0 2212.7 526.2 2214.3 456.9 2215.8 502.9 2217.1 459.2 2218.7 531.9 2221.1 464.0 2222.4 447.5 2223.9 495.0 2226.2 467.9 2229.0 499.9 2230.9 494.2 2233.2 493.9 2235.2 496.4 2237.6 467.8 2239.7 453.7 2241.8 495.2 2244.1 492.2 2246.8 503.9 2249.2 461.6 2251.8 414.2 2253.3 451.6 2255.9 508.9 2257.3 459.9 2259.2 474.8 2260.6 490.1 2262.7 510.3 2265.4 402.2 2266.7 493.8 2269.4 461.5 2271.4 496.4 2274.1 402.0 2276.3 442.2 2277.9 454.6 2280.7 424.2 2282.6 463.9 2284.3 507.8 2286.1 415.2 2287.4 506.2 2289.2 491.9 2290.4 513.4 2292.6 451.7 2294.7 508.0 2297.0 468.3 2298.4 466.1 2301.1 461.5 2303.2 464.6 2305.3 438.0 2306.9 426.0 2308.3 412.7 2310.2 426.1"/>
</g>
<path d="M228.5 678.5 232.3 680.9 243.2 751.8 247.3 720.4 252.7 724.5 257.5 743.6 261.6 714.3 267.0 762.7 272.5 738.1 275.9 753.1 282.0 732.7 286.8 755.8 292.2 740.9 296.3 753.1 301.8 713.6 307.9 753.1 314.0 720.4 319.5 720.4 322.2 728.6 327.7 735.4 333.1 720.4 339.3 710.9 343.3 734.0 348.1 738.1 353.6 717.7 360.4 732.7 369.2 697.2 376.1 723.6 380.9 701.8 388.4 725.0 392.5 710.0 395.9 720.9 403.4 700.4 409.5 727.7 416.3 699.0 419.1 716.8 422.5 701.8 425.9 707.2 430.0 696.3 432.7 735.8 439.5 714.0 443.6 730.4 449.7 707.2 453.1 725.0 457.9 725.0 462.7 730.4 468.1 715.4 474.9 714.0 480.4 723.6 485.8 733.1 489.9 734.5 493.3 697.7 498.1 700.4 502.2 707.2 507.7 725.0 517.2 700.4 524.0 723.6 531.8 672.7 537.2 692.6 540.9 667.2 547.2 692.6 558.1 707.2 561.8 670.8 565.4 689.0 569.0 676.3 578.1 719.9 583.6 721.7 589.0 709.0 593.6 727.2 599.0 712.6 601.7 707.2 609.0 700.0 613.6 718.0 616.3 681.7 620.8 678.0 628.1 652.7 633.5 687.2 639.9 727.2 645.3 718.0 650.8 701.7 656.2 732.6 659.9 687.2 665.3 690.8 671.7 707.2 679.9 678.1 689.0 703.5 699.9 666.3 707.1 692.6 711.7 685.4 718.0 712.6 727.1 690.8 730.7 700.0 738.0 681.7 744.4 667.2 751.8 701.7 756.4 687.2 760.0 694.4 767.3 661.7 774.5 690.8 781.8 714.4 790.0 681.7 798.1 696.3 800.9 729.0 805.4 712.6 813.6 674.5 818.1 698.1 822.7 676.3 827.2 703.5 833.6 723.5 839.9 685.4 845.4 681.7 849.0 701.7 855.4 707.2 859.0 690.8 864.5 685.4 867.2 701.7 874.4 670.8 879.9 694.4 884.4 681.7 889.0 716.2 893.5 679.9 898.1 712.6 901.7 687.2 905.3 707.2 911.7 687.2 917.1 667.2 921.7 674.5 925.3 645.4 929.0 667.2 934.4 667.2 941.7 590.0 948.9 625.4 956.2 618.1 964.4 650.8 968.9 634.5 973.5 663.6 979.8 623.6 986.2 612.7 994.5 652.6 1000.0 623.6 1005.4 632.6 1008.2 585.4 1013.6 618.1 1020.9 639.9 1025.4 614.5 1034.5 601.8 1040.9 589.0 1046.3 621.7 1052.7 593.6 1058.1 627.2 1061.8 619.9 1066.3 629.0 1072.7 612.7 1078.1 634.5 1081.7 609.0 1085.4 623.6 1089.9 596.3 1099.0 638.1 1104.5 632.6 1108.1 598.1 1112.6 618.1 1116.3 599.9 1124.4 652.6 1130.8 603.6 1136.2 629.0 1143.5 625.4 1147.2 614.5 1153.5 601.8 1159.9 618.1 1165.3 625.4 1170.8 605.4 1178.0 589.0 1181.7 610.8 1186.2 605.4 1191.7 573.6 1195.3 610.8 1201.7 627.2 1208.9 567.2 1214.4 625.4 1221.6 616.3 1227.0 605.9 1236.0 637.9 1243.0 613.9 1250.0 597.9 1253.0 615.9 1258.0 598.9 1267.0 633.9 1272.0 609.9 1280.0 611.9 1290.0 643.9 1300.0 604.9 1307.0 617.9 1314.0 639.9 1322.0 631.9 1329.0 583.9 1335.0 643.9 1340.0 611.9 1346.0 607.9 1352.0 601.9 1361.0 559.9 1364.0 613.9 1372.0 615.9 1375.0 571.9 1384.0 599.9 1392.0 555.9 1396.0 575.9 1404.0 549.9 1408.0 587.9 1413.0 569.9 1419.0 609.9 1425.0 557.9 1430.0 579.9 1436.0 561.9 1442.0 599.9 1448.0 573.9 1456.0 609.9 1465.0 571.9 1474.0 607.9 1480.0 593.9 1486.0 597.9 1490.0 663.5 1496.3 650.8 1500.0 665.4 1503.6 659.9 1510.9 665.4 1514.5 658.1 1518.1 685.3 1523.6 674.4 1527.2 694.4 1532.7 692.6 1538.1 653.6 1543.6 690.8 1549.0 663.5 1559.0 689.9 1563.6 669.0 1569.0 685.3 1575.4 690.8 1580.8 669.9 1586.3 676.3 1589.9 689.9 1599.0 653.6 1608.1 679.0 1617.2 643.6 1624.4 638.1 1629.9 619.9 1633.5 641.7 1637.2 629.0 1645.3 667.2 1651.7 643.6 1657.1 583.6 1666.2 663.5 1670.8 639.0 1675.3 643.6 1681.7 576.3 1688.9 570.9 1695.3 574.5 1700.7 605.4 1708.2 552.6 1714.5 563.5 1720.9 581.7 1724.5 534.5 1733.6 578.1 1743.6 545.4 1749.0 556.3 1755.4 585.3 1761.8 556.3 1769.0 567.2 1772.7 559.9 1776.3 599.9 1781.8 567.2 1787.2 583.5 1790.8 559.9 1798.1 547.2 1801.7 594.4 1805.4 547.2 1810.8 595.3 1816.3 556.3 1822.6 539.0 1829.0 565.4 1831.7 543.6 1839.9 570.8 1845.3 536.3 1851.7 561.7 1856.2 543.6 1863.5 547.2 1870.8 567.2 1877.1 514.5 1886.2 578.1 1898.0 496.3 1907.1 558.1 1910.8 554.5 1919.8 490.9 1925.3 514.5 1932.6 476.3 1936.2 512.7 1942.5 565.4 1947.1 546.4 1953.0 522.8 1962.4 551.1 1968.3 593.6 1975.4 565.3 1977.8 581.8 1982.5 518.1 1988.4 534.6 1994.3 570.0 2000.2 551.1 2003.8 546.4 2010.8 548.8 2014.4 494.5 2020.3 522.8 2023.8 488.5 2029.7 506.3 2035.6 529.9 2041.5 513.3 2046.3 508.6 2049.8 546.4 2056.9 548.8 2064.0 492.1 2069.9 534.6 2080.5 480.3 2087.6 504.0 2092.7 450.6 2097.8 473.5 2104.2 455.7 2114.3 470.9 2122.0 394.6 2128.3 476.0 2134.7 453.1 2139.8 353.9 2147.4 371.7 2149.9 427.7 2155.0 371.7 2157.6 417.5 2162.7 455.7 2166.5 430.2 2172.8 445.5 2180.5 412.4 2185.5 468.4 2191.9 422.6 2197.0 440.4 2203.3 420.1 2212.2 468.4 2219.9 491.3 2225.0 481.1 2232.6 496.3 2240.2 445.5 2249.1 425.1 2260.6 470.9 2264.4 476.0 2275.8 432.8 2283.5 448.0 2289.8 430.2 2293.6 463.3 2298.7 432.8 2302.5 458.2 2305.1 425.1 2311.4 445.5 2316.5 442.9 2319.1 448.0" fill="none" stroke="#ff0000" stroke-width="7.5" stroke-linejoin="round" stroke-linecap="round"/>
<g stroke="#737373" stroke-width="4" stroke-dasharray="22 23"><line x1="1478.3" y1="69" x2="1478.3" y2="866"/><line x1="1894.8" y1="69" x2="1894.8" y2="866"/></g>
<rect x="226.7" y="69" width="2093" height="799.5" fill="none" stroke="#000" stroke-width="5"/>
<path d="M575.5 868.5V843M924.4 868.5V843M1273.2 868.5V843M1622.0 868.5V843M1970.9 868.5V843M226.7 779.4H252.5M226.7 601.8H252.5M226.7 424.0H252.5M226.7 246.4H252.5" stroke="#000" stroke-width="4.7" fill="none"/>
<rect x="226" y="68.7" width="1252.3" height="793.3" fill="rgb(113,255,255)" fill-opacity="0.22"/>
<rect x="1478.3" y="68.7" width="416.5" height="793.3" fill="rgb(241,241,167)" fill-opacity="0.22"/>
<rect x="1894.8" y="68.7" width="416.7" height="793.3" fill="rgb(245,140,150)" fill-opacity="0.22"/>
<path d="M277.0 140.9H1432.3" stroke="#808080" stroke-width="5"/><path d="M235.5 140.9L276.5 128.8L276.5 153.0Z" fill="#808080" stroke="#808080" stroke-width="5" stroke-linejoin="round"/><path d="M1473.8 140.9L1432.8 128.8L1432.8 153.0Z" fill="#808080" stroke="#808080" stroke-width="5" stroke-linejoin="round"/>
<path d="M1532.6 140.9H1850.8" stroke="#808080" stroke-width="5"/><path d="M1491.1 140.9L1532.1 128.8L1532.1 153.0Z" fill="#808080" stroke="#808080" stroke-width="5" stroke-linejoin="round"/><path d="M1892.3 140.9L1851.3 128.8L1851.3 153.0Z" fill="#808080" stroke="#808080" stroke-width="5" stroke-linejoin="round"/>
<path d="M1951.2 140.9H2268.8" stroke="#808080" stroke-width="5"/><path d="M1909.7 140.9L1950.7 128.8L1950.7 153.0Z" fill="#808080" stroke="#808080" stroke-width="5" stroke-linejoin="round"/><path d="M2310.3 140.9L2269.3 128.8L2269.3 153.0Z" fill="#808080" stroke="#808080" stroke-width="5" stroke-linejoin="round"/>
<g font-weight="bold" font-size="64.6">
<text transform="translate(851.2 215) scale(1.027 1)" text-anchor="middle">Training set</text>
<text transform="translate(1691.9 219.7) scale(1.027 1)" text-anchor="middle">Validation set</text>
<text transform="translate(2123.2 217) scale(1.022 1)" text-anchor="middle">Test set</text>
</g>
<path d="M314.1 340.7H455.5" stroke="#808080" stroke-opacity="0.5" stroke-width="4.2" stroke-linecap="round" stroke-dasharray="10.5 11.3"/>
<path d="M314.5 438.4H464" stroke="#ff0000" stroke-width="7.3" stroke-linecap="round"/>
<g font-size="65.5">
<text transform="translate(481 365.4) scale(1.011 1)">Original wind speed</text>
<text transform="translate(481 460.5) scale(1.008 1)">Mean wind speed</text>
</g>
<g font-size="83">
<text x="197.5" y="803.4" text-anchor="end">5</text>
<text x="197.5" y="625.8" text-anchor="end">15</text>
<text x="197.5" y="448.0" text-anchor="end">25</text>
<text x="197.5" y="270.4" text-anchor="end">35</text>
<text x="197.5" y="92.6" text-anchor="end">45</text>
<text x="226.7" y="957.5" text-anchor="middle">0</text>
<text x="575.5" y="957.5" text-anchor="middle">120</text>
<text x="924.4" y="957.5" text-anchor="middle">240</text>
<text x="1273.2" y="957.5" text-anchor="middle">360</text>
<text x="1622.0" y="957.5" text-anchor="middle">480</text>
<text x="1970.9" y="957.5" text-anchor="middle">600</text>
<text x="2319.7" y="957.5" text-anchor="middle">720</text>
</g><g font-size="81">
<text x="1273.2" y="1065.7" text-anchor="middle">Time (min)</text>
<text transform="translate(85.1 469.7) rotate(-90)" text-anchor="middle">Wind speed (m/s)</text>
</g>
</svg></body></html>
